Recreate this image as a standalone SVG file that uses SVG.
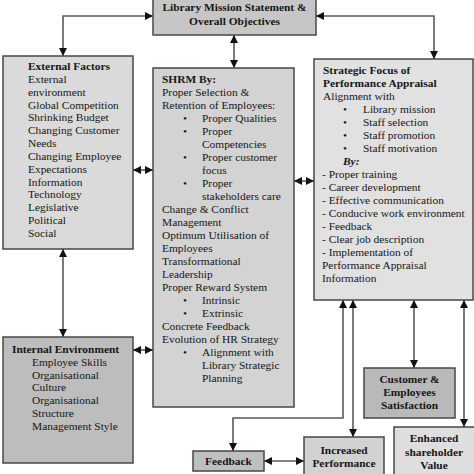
<svg xmlns="http://www.w3.org/2000/svg" width="474" height="474" viewBox="0 0 474 474">
<style>
.box{stroke:#474747;stroke-width:1.5}
.t{font-family:"Liberation Serif","Times New Roman",serif;font-size:11.4px;fill:#161616}
.b{font-weight:bold}
.c{text-anchor:middle}
.con{fill:none;stroke:#5a5a5a;stroke-width:1.6;marker-start:url(#ah);marker-end:url(#ah)}
</style>
<defs>
<marker id="ah" viewBox="0 0 8 8" refX="8" refY="4" markerWidth="8" markerHeight="8" markerUnits="userSpaceOnUse" orient="auto-start-reverse">
<path d="M0,0 L8,4 L0,8 z" fill="#111"/>
</marker>
</defs>
<rect width="474" height="474" fill="#ffffff"/>

<g id="connectors">
<path class="con" d="M153,16 H63 V56"/>
<path class="con" d="M316,16 H434 V59"/>
<path class="con" d="M234,35 V68"/>
<path class="con" d="M133,170 H153"/>
<path class="con" d="M294,181 H314"/>
<path class="con" d="M63,249 V337"/>
<path class="con" d="M133,350 H153"/>
<path class="con" d="M343,300 V418 H233 V451"/>
<path class="con" d="M353,300 V437"/>
<path class="con" d="M414,300 V368"/>
<path class="con" d="M464,300 V427"/>
<path class="con" d="M264,461 H304"/>
</g>

<g id="mission">
<rect class="box" x="153" y="-2" width="163" height="37" fill="#c6c6c6"/>
<text class="t b c" x="234.5" y="11">Library Mission Statement &amp;</text>
<text class="t b c" x="234.5" y="25">Overall Objectives</text>
</g>

<g id="external">
<rect class="box" x="3" y="56" width="130" height="193" fill="#dadada"/>
<text class="t b" x="28" y="70">External Factors</text>
<text class="t" x="28" y="83">External</text>
<text class="t" x="28" y="96">environment</text>
<text class="t" x="28" y="109">Global Competition</text>
<text class="t" x="28" y="121">Shrinking Budget</text>
<text class="t" x="28" y="134">Changing Customer</text>
<text class="t" x="28" y="147">Needs</text>
<text class="t" x="28" y="160">Changing Employee</text>
<text class="t" x="28" y="173">Expectations</text>
<text class="t" x="28" y="186">Information</text>
<text class="t" x="28" y="198">Technology</text>
<text class="t" x="28" y="211">Legislative</text>
<text class="t" x="28" y="224">Political</text>
<text class="t" x="28" y="237">Social</text>
</g>

<g id="shrm">
<rect class="box" x="153" y="68" width="141" height="339" fill="#d3d3d3"/>
<text class="t b" x="162" y="83">SHRM By:</text>
<text class="t" x="162" y="96">Proper Selection &amp;</text>
<text class="t" x="162" y="109">Retention of Employees:</text>
<text class="t" x="183" y="122">•</text><text class="t" x="202" y="122">Proper Qualities</text>
<text class="t" x="183" y="135">•</text><text class="t" x="202" y="135">Proper</text>
<text class="t" x="202" y="148">Competencies</text>
<text class="t" x="183" y="161">•</text><text class="t" x="202" y="161">Proper customer</text>
<text class="t" x="202" y="174">focus</text>
<text class="t" x="183" y="187">•</text><text class="t" x="202" y="187">Proper</text>
<text class="t" x="202" y="200">stakeholders care</text>
<text class="t" x="162" y="213">Change &amp; Conflict</text>
<text class="t" x="162" y="226">Management</text>
<text class="t" x="162" y="239">Optimum Utilisation of</text>
<text class="t" x="162" y="252">Employees</text>
<text class="t" x="162" y="265">Transformational</text>
<text class="t" x="162" y="278">Leadership</text>
<text class="t" x="162" y="291">Proper Reward System</text>
<text class="t" x="183" y="304">•</text><text class="t" x="202" y="304">Intrinsic</text>
<text class="t" x="183" y="317">•</text><text class="t" x="202" y="317">Extrinsic</text>
<text class="t" x="162" y="330">Concrete Feedback</text>
<text class="t" x="162" y="343">Evolution of HR Strategy</text>
<text class="t" x="183" y="356">•</text><text class="t" x="202" y="356">Alignment with</text>
<text class="t" x="202" y="369">Library Strategic</text>
<text class="t" x="202" y="382">Planning</text>
</g>

<g id="strategic">
<rect class="box" x="314" y="59" width="159" height="241" fill="#e1e1e1"/>
<text class="t b" x="323" y="74">Strategic Focus of</text>
<text class="t b" x="323" y="87">Performance Appraisal</text>
<text class="t" x="323" y="100">Alignment with</text>
<text class="t" x="343" y="113">•</text><text class="t" x="363" y="113">Library mission</text>
<text class="t" x="343" y="126">•</text><text class="t" x="363" y="126">Staff selection</text>
<text class="t" x="343" y="139">•</text><text class="t" x="363" y="139">Staff promotion</text>
<text class="t" x="343" y="152">•</text><text class="t" x="363" y="152">Staff motivation</text>
<text class="t b" x="343" y="165" font-style="italic">By:</text>
<text class="t" x="322" y="178">- Proper training</text>
<text class="t" x="322" y="191">- Career development</text>
<text class="t" x="322" y="204">- Effective communication</text>
<text class="t" x="322" y="217">- Conducive work environment</text>
<text class="t" x="322" y="230">- Feedback</text>
<text class="t" x="322" y="243">- Clear job description</text>
<text class="t" x="322" y="256">- Implementation of</text>
<text class="t" x="322" y="269">Performance Appraisal</text>
<text class="t" x="322" y="282">Information</text>
</g>

<g id="internal">
<rect class="box" x="3" y="337" width="130" height="126" fill="#bdbdbd"/>
<text class="t b" x="12" y="353">Internal Environment</text>
<text class="t" x="32" y="366">Employee Skills</text>
<text class="t" x="32" y="379">Organisational</text>
<text class="t" x="32" y="391">Culture</text>
<text class="t" x="32" y="404">Organisational</text>
<text class="t" x="32" y="417">Structure</text>
<text class="t" x="32" y="430">Management Style</text>
</g>

<g id="customer">
<rect class="box" x="364" y="368" width="91" height="50" fill="#b9b9b9"/>
<text class="t b c" x="409.5" y="383">Customer &amp;</text>
<text class="t b c" x="409.5" y="396">Employees</text>
<text class="t b c" x="409.5" y="409">Satisfaction</text>
</g>

<g id="enhanced">
<rect class="box" x="394" y="427" width="82" height="50" fill="#dedede"/>
<text class="t b c" x="434" y="442">Enhanced</text>
<text class="t b c" x="434" y="456">shareholder</text>
<text class="t b c" x="434" y="469">Value</text>
</g>

<g id="increased">
<rect class="box" x="304" y="437" width="80" height="40" fill="#d2d2d2"/>
<text class="t b c" x="344" y="454">Increased</text>
<text class="t b c" x="344" y="467">Performance</text>
</g>

<g id="feedback">
<rect class="box" x="193" y="451" width="71" height="20" fill="#bfbfbf"/>
<text class="t b c" x="228.5" y="465">Feedback</text>
</g>
</svg>
